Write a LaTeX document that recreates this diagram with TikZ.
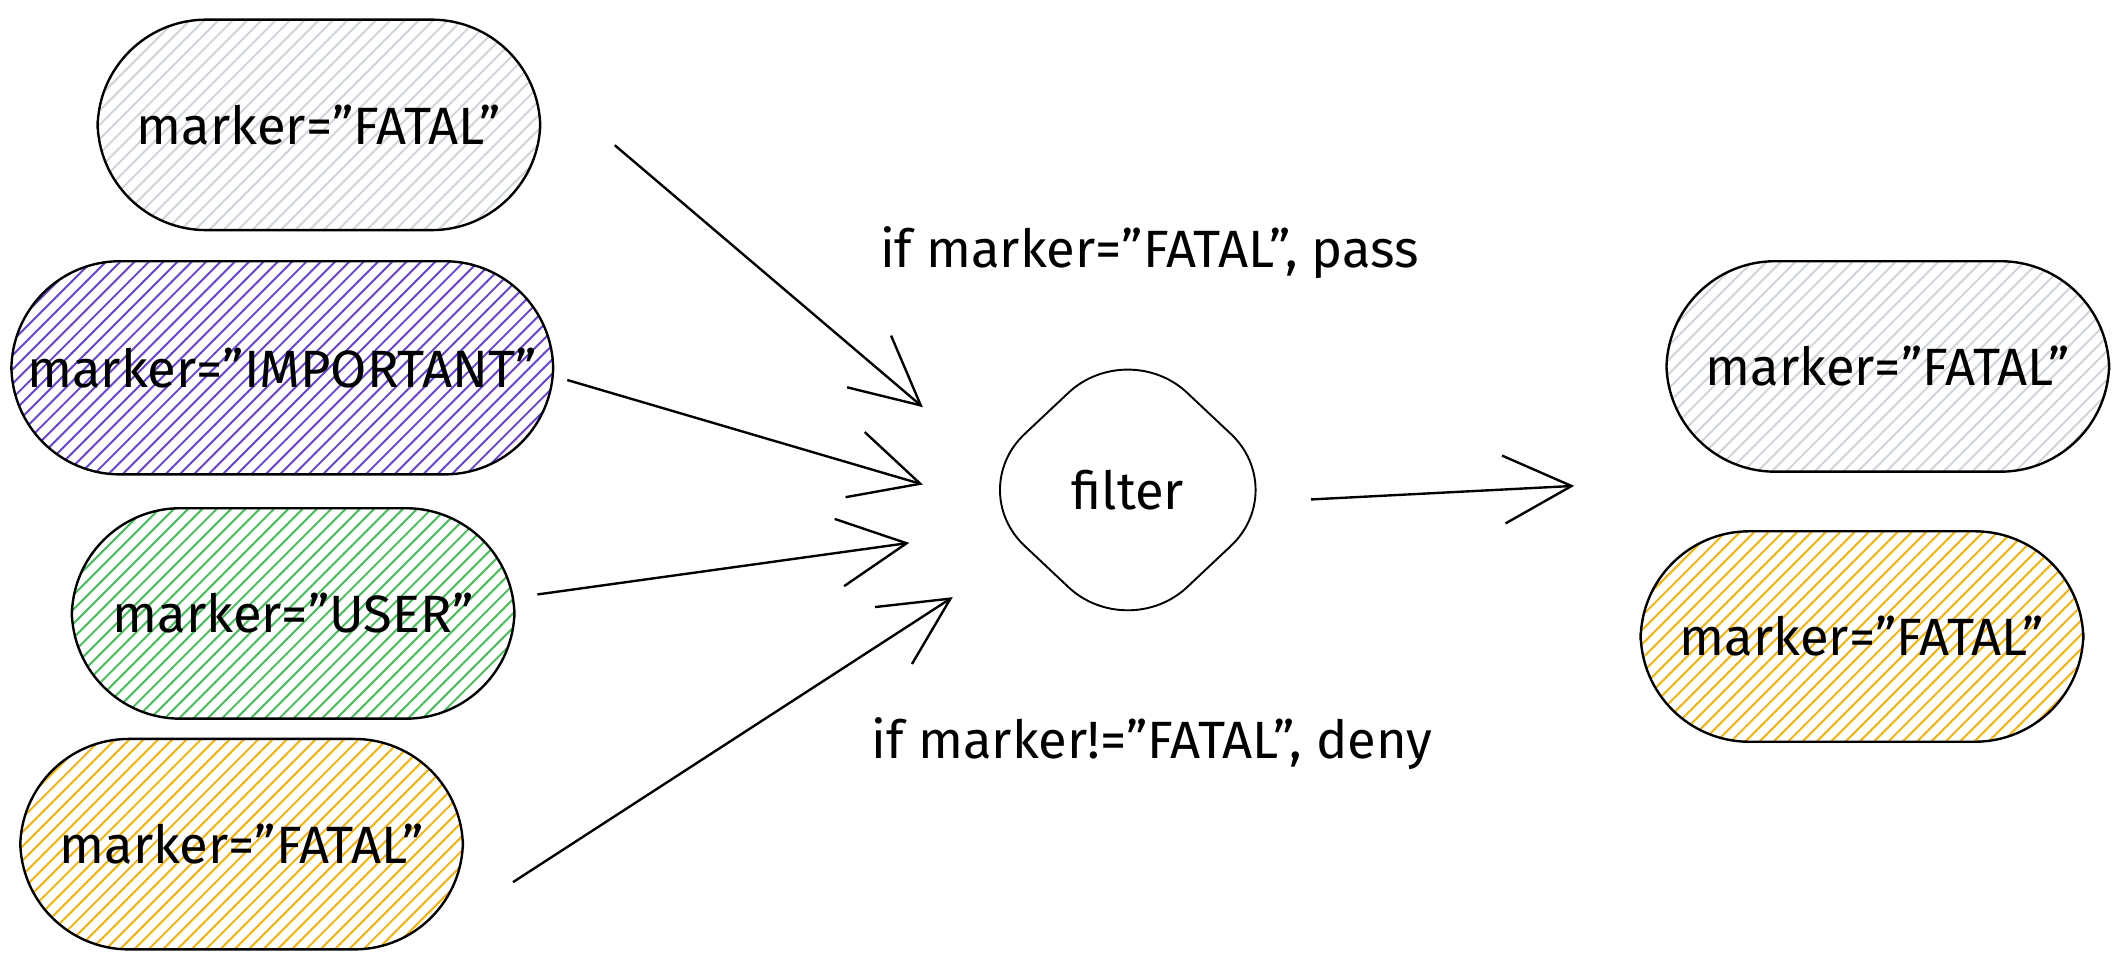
\documentclass[tikz,border=0pt]{standalone}
\usepackage{fontspec}
\setmainfont{Fira Sans}
\usetikzlibrary{arrows.meta}
\usetikzlibrary{patterns}
\usetikzlibrary{shapes.geometric}
\definecolor{hgray}{HTML}{CED4DA}
\definecolor{hviolet}{HTML}{6741D9}
\definecolor{hgreen}{HTML}{40C057}
\definecolor{horange}{HTML}{FAB005}
\tikzset{
  markbox/.style={draw, rounded corners=8mm, line width=0.5pt, minimum width=3.26cm,
    minimum height=1.55cm, font=\fontsize{11}{13}\selectfont, pattern=north east lines},
  flow/.style={-{Straight Barb[length=5mm,width=5mm]}, line width=0.5pt},
  note/.style={font=\fontsize{11}{13}\selectfont}
}
\begin{document}
\begin{tikzpicture}[x=0.01cm, y=-0.01cm]
 \useasboundingbox (0,0) rectangle (1568,714);
 % inputs
 \node[markbox, pattern color=hgray] (in1) at (235,92) {marker="FATAL"};
 \node[markbox, pattern color=hviolet, minimum width=3.54cm, minimum height=1.57cm] (in2) at (208,271) {marker="IMPORTANT"};
 \node[markbox, pattern color=hgreen] (in3) at (216,452) {marker="USER"};
 \node[markbox, pattern color=horange] (in4) at (178,622) {marker="FATAL"};
 % filter
 \node[draw, diamond, rounded corners=6mm, minimum width=2.4cm, minimum height=2.26cm,
   note] (filter) at (831,361) {filter};
 \node[note] (pass) at (847,186) {if marker="FATAL", pass};
 \node[note] (deny) at (849,548) {if marker!="FATAL", deny};
 % outputs
 \node[markbox, pattern color=hgray] (out1) at (1391,270) {marker="FATAL"};
 \node[markbox, pattern color=horange] (out2) at (1372,469) {marker="FATAL"};
 % arrows
 \coordinate (s1) at (453,107); \coordinate (e1) at (680,300);
 \coordinate (s2) at (418,280); \coordinate (e2) at (680,357);
 \coordinate (s3) at (396,438); \coordinate (e3) at (670,400);
 \coordinate (s4) at (378,650); \coordinate (e4) at (702,440);
 \coordinate (s5) at (966,368); \coordinate (e5) at (1160,358);
 \foreach \i in {1,...,5}
   \draw[flow] (s\i) -- (e\i);
\end{tikzpicture}
\end{document}
